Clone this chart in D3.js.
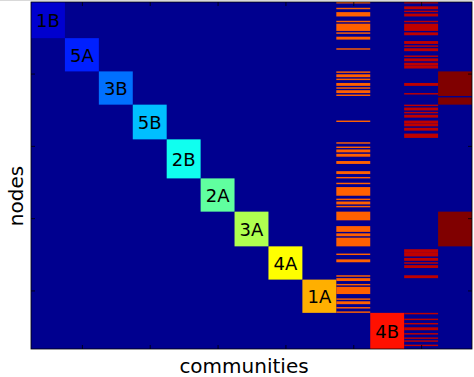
<!DOCTYPE html>
<html>
<head>
<meta charset="utf-8">
<script src="https://cdn.jsdelivr.net/npm/d3@7"></script>
<style>
  html, body { margin: 0; padding: 0; background: #fff; }
  svg { display: block; font-family: "DejaVu Sans", sans-serif; }
</style>
</head>
<body>
<svg id="chart" width="474" height="377"></svg>
<script>
// ---------------- data ----------------
const blockLabels  = ["1B", "5A", "3B", "5B", "2B", "2A", "3A", "4A", "1A", "4B"];
const blockSizes   = [25, 23, 23, 24, 27, 23, 24, 23, 23, 25];   // nodes per community
const blockColumns = [1, 2, 3, 4, 5, 6, 7, 8, 9, 11];            // community column index
const nColumns = 13;

// extra (overlapping) communities: inclusive node ranges (0-based)
const members10 = [[0,0],[4,4],[7,9],[13,13],[15,19],[21,21],[24,25],[32,32],
  [48,48],[50,51],[53,53],[56,57],[59,59],[61,62],[64,64],[82,82],
  [97,97],[100,100],[102,103],[105,106],[110,111],[117,118],[121,121],[125,125],
  [128,133],[136,136],[138,139],[141,141],[145,150],[155,158],[160,161],[163,168],
  [174,174],[178,179],[189,189],[191,192],[195,195],[197,201],[205,205],[207,208],
  [211,211],[214,214]];
const members12 = [[0,0],[3,4],[6,6],[8,9],[13,13],[15,19],[21,22],[27,28],[30,30],
  [32,33],[37,37],[39,40],[42,43],[44,45],[56,57],[63,63],[71,71],[73,74],[76,76],
  [78,79],[82,83],[84,85],[87,88],[91,93],[171,172],[173,175],[177,178],[180,180],
  [182,183],[189,190],[215,215],[219,219],[222,222],[225,226],[229,229],[232,232],
  [234,234],[237,237]];
const members13 = [[48,64],[66,70],[145,168]];

const xTicks = [2, 4, 6, 8, 10, 12];
const yTicks = [50, 100, 150, 200];
const xLabel = "communities";
const yLabel = "nodes";

// ---------------- build cells ----------------
const nNodes = d3.sum(blockSizes);
const cells = [];
let start = 0;
const blocks = blockSizes.map((s, i) => {
  const b = { label: blockLabels[i], col: blockColumns[i], s: start, e: start + s - 1 };
  cells.push({ col: b.col, s: b.s, e: b.e, v: b.col });
  start += s;
  return b;
});
[[10, members10], [12, members12], [13, members13]].forEach(([col, list]) => {
  list.forEach(([s, e]) => cells.push({ col, s, e, v: col }));
});

// MATLAB jet(64)
function jet64(i) {
  let r, g, b;
  if (i <= 8)       { r = 0; g = 0; b = 0.5 + 0.0625 * i; }
  else if (i <= 24) { r = 0; g = (i - 8) * 0.0625; b = 1; }
  else if (i <= 40) { r = (i - 24) * 0.0625; g = 1; b = 1 - (i - 24) * 0.0625; }
  else if (i <= 56) { r = 1; g = 1 - (i - 40) * 0.0625; b = 0; }
  else              { r = 1 - (i - 56) * 0.0625; g = 0; b = 0; }
  return d3.rgb(Math.round(r * 255), Math.round(g * 255), Math.round(b * 255)).formatHex();
}
const colorIndex = d3.scaleQuantize().domain([0, nColumns]).range(d3.range(1, 65));
const color = v => jet64(v >= nColumns ? 64 : colorIndex(v));

// ---------------- layout ----------------
const L = 31, R = 472, T = 2, B = 349;
const svg = d3.select("#chart");
const x = d3.scaleLinear().domain([0.5, nColumns + 0.5]).range([L, R]);
const y = d3.scaleLinear().domain([0.5, nNodes + 0.5]).range([T, B]);

svg.append("rect").attr("x", 0).attr("y", 0).attr("width", 474).attr("height", 1)
  .attr("fill", "#d9d9d9");

// background (value 0)
svg.append("rect").attr("x", L).attr("y", T).attr("width", R - L).attr("height", B - T)
  .attr("fill", color(0));

svg.append("g").selectAll("rect").data(cells).join("rect")
  .attr("x", d => x(d.col - 0.5))
  .attr("width", d => x(d.col + 0.5) - x(d.col - 0.5))
  .attr("y", d => y(d.s + 0.5))
  .attr("height", d => y(d.e + 1.5) - y(d.s + 0.5))
  .attr("fill", d => color(d.v));

// block labels
svg.append("g").selectAll("text").data(blocks).join("text")
  .attr("x", d => x(d.col))
  .attr("y", d => (y(d.s + 0.5) + y(d.e + 1.5)) / 2 + 7)
  .attr("text-anchor", "middle")
  .attr("font-size", 18)
  .attr("fill", "#000")
  .text(d => d.label);

// axes ticks (inward, no labels)
const tl = 4;
function styleAxis(g) {
  g.select(".domain").remove();
  g.selectAll(".tick line").attr("stroke", "#000").attr("stroke-width", 0.8);
}
svg.append("g").attr("transform", `translate(0,${B})`)
  .call(d3.axisBottom(x).tickValues(xTicks).tickSize(-tl).tickFormat("")).call(styleAxis);
svg.append("g").attr("transform", `translate(0,${T})`)
  .call(d3.axisTop(x).tickValues(xTicks).tickSize(-tl).tickFormat("")).call(styleAxis);
svg.append("g").attr("transform", `translate(${L},0)`)
  .call(d3.axisLeft(y).tickValues(yTicks).tickSize(-tl).tickFormat("")).call(styleAxis);
svg.append("g").attr("transform", `translate(${R},0)`)
  .call(d3.axisRight(y).tickValues(yTicks).tickSize(-tl).tickFormat("")).call(styleAxis);

// frame
svg.append("rect").attr("x", L).attr("y", T).attr("width", R - L).attr("height", B - T)
  .attr("fill", "none").attr("stroke", "#000").attr("stroke-width", 0.8);

// axis labels
svg.append("text").attr("x", 244).attr("y", 373).attr("text-anchor", "middle")
  .attr("font-size", 20).attr("fill", "#000").text(xLabel);
svg.append("text").attr("transform", "translate(23,196) rotate(-90)")
  .attr("text-anchor", "middle").attr("font-size", 20).attr("fill", "#000").text(yLabel);
</script>
</body>
</html>
